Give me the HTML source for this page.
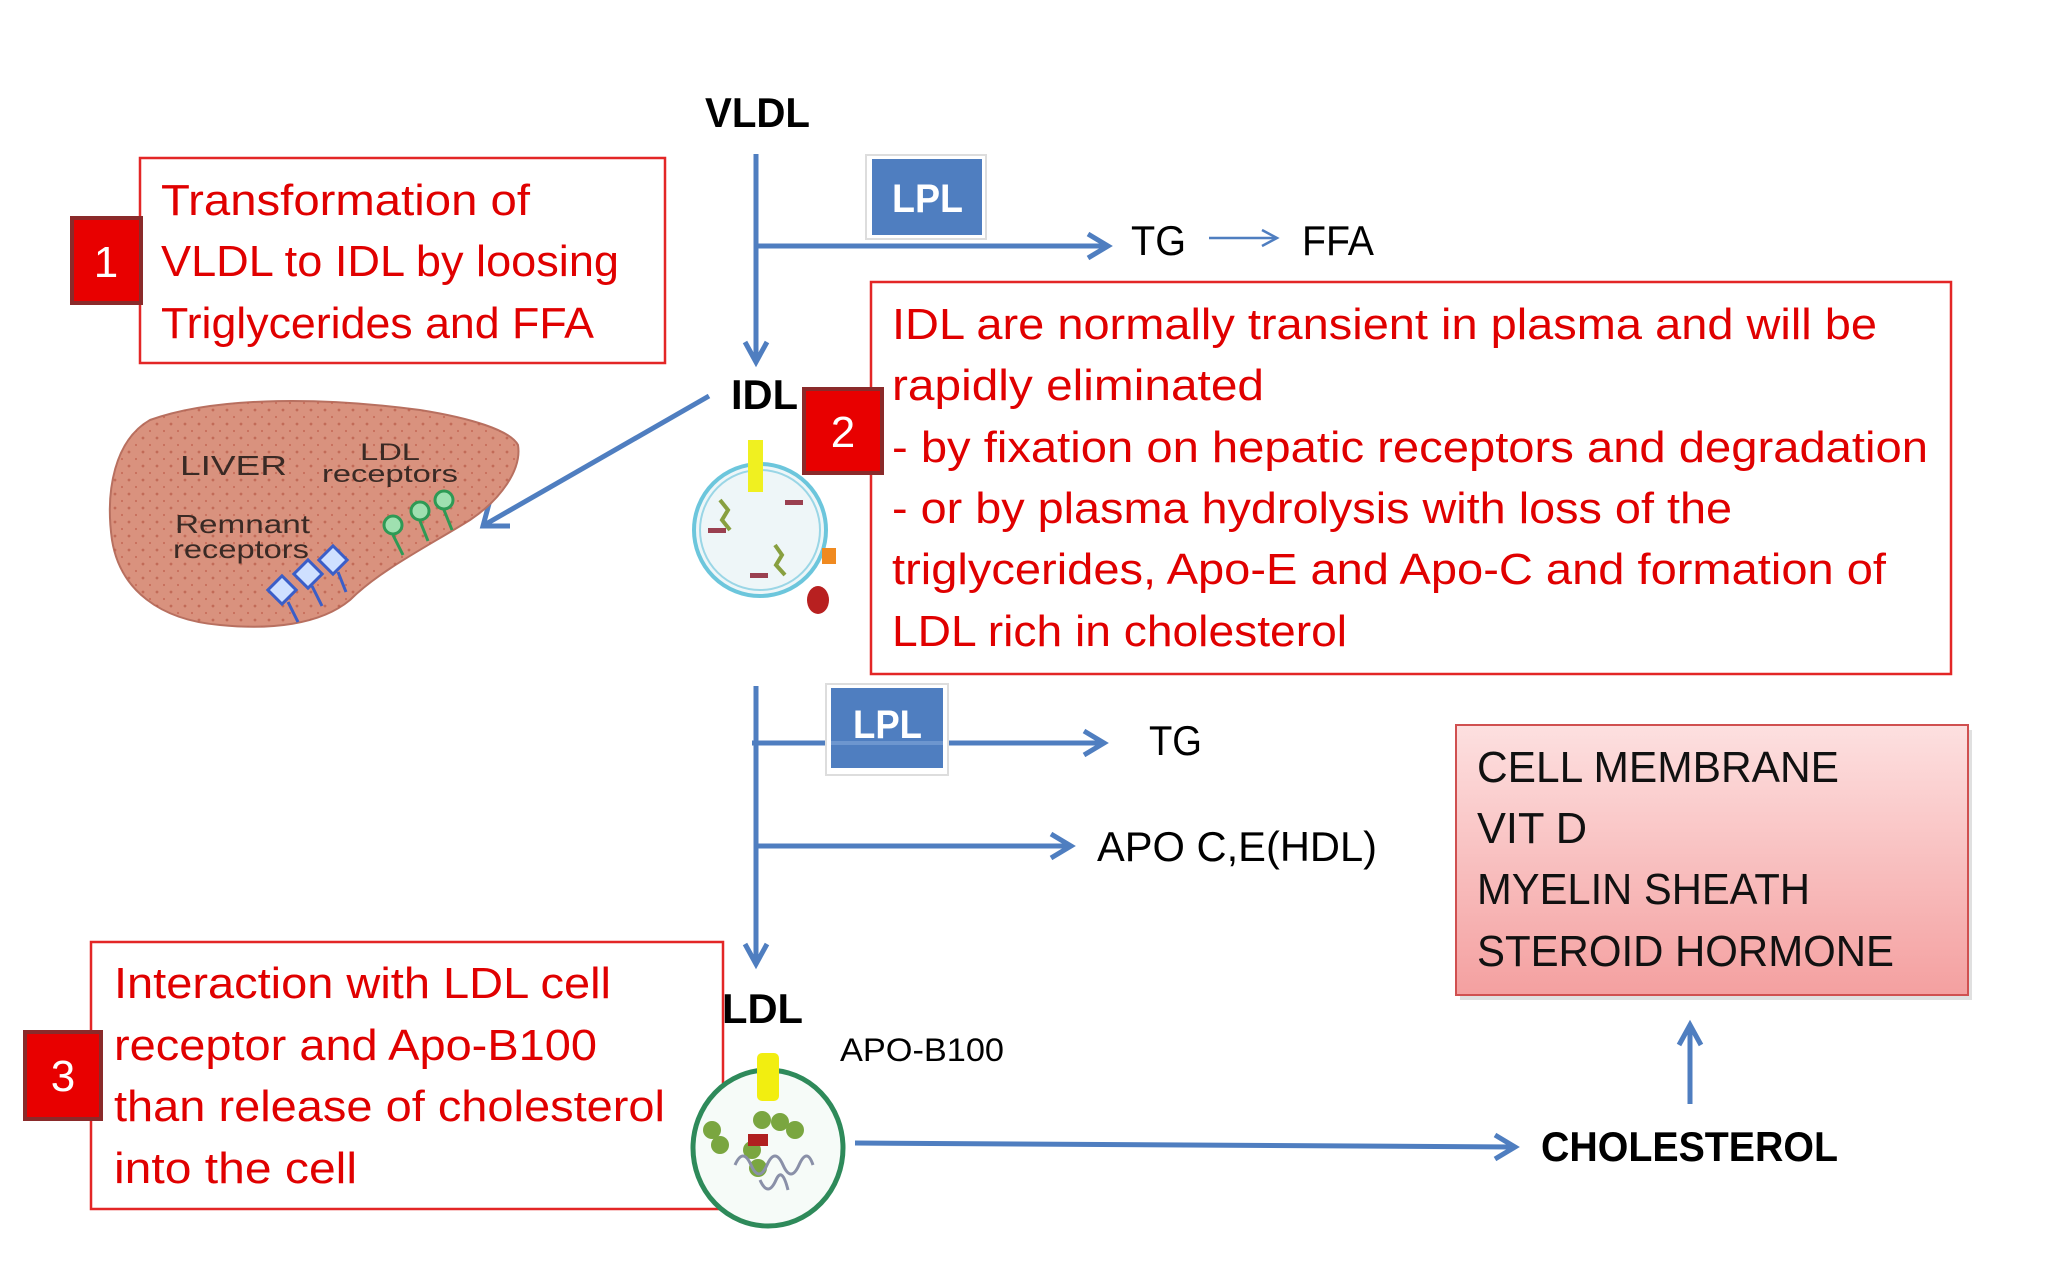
<!DOCTYPE html>
<html><head><meta charset="utf-8"><style>html,body{margin:0;padding:0;background:#fff}svg{display:block}</style></head>
<body>
<svg width="2048" height="1280" viewBox="0 0 2048 1280" xmlns="http://www.w3.org/2000/svg" font-family="Liberation Sans, sans-serif">
<defs>
<marker id="ah" markerWidth="10" markerHeight="10" refX="7" refY="5" orient="auto" markerUnits="userSpaceOnUse" viewBox="0 0 10 10">
</marker>
<linearGradient id="pk" x1="0" y1="0" x2="0" y2="1"><stop offset="0" stop-color="#fde0e0"/><stop offset="1" stop-color="#f4a0a0"/></linearGradient>
<pattern id="dots" width="14" height="14" patternUnits="userSpaceOnUse"><circle cx="3" cy="4" r="1.4" fill="#b85a48"/><circle cx="10" cy="11" r="1.1" fill="#c0604d"/></pattern>
</defs>
<g stroke="#4f7ec0" stroke-width="5" fill="none">
<!-- VLDL to IDL -->
<line x1="756" y1="154" x2="756" y2="360"/><polyline points="745,342 756,362 767,342"/>
<line x1="756" y1="246" x2="1106" y2="246"/><polyline points="1088,234 1108,246 1088,258"/>
<!-- IDL to liver -->
<line x1="709" y1="396" x2="486" y2="524"/><polyline points="490,500 483,526 510,526"/>
<!-- IDL to LDL -->
<line x1="756" y1="686" x2="756" y2="962"/><polyline points="745,944 756,964 767,944"/>
<line x1="752" y1="743" x2="1102" y2="743"/><polyline points="1084,731 1104,743 1084,755"/>
<line x1="756" y1="846" x2="1069" y2="846"/><polyline points="1051,834 1071,846 1051,858"/>
<!-- LDL to cholesterol -->
<line x1="855" y1="1143" x2="1513" y2="1147"/><polyline points="1495,1135 1515,1147 1495,1159"/>
<!-- up arrow -->
<line x1="1690" y1="1104" x2="1690" y2="1027"/><polyline points="1679,1045 1690,1025 1701,1045"/>
</g>
<g stroke="#4f7ec0" stroke-width="2.5" fill="none"><line x1="1209" y1="238" x2="1275" y2="238"/><polyline points="1262,230 1277,238 1262,246"/></g>

<!-- LPL boxes -->
<rect x="866" y="155" width="120" height="84" fill="#fff" stroke="#ddd" stroke-width="2"/>
<rect x="872" y="159" width="110" height="76" fill="#4f7ec0"/>
<text x="892" y="212" font-size="40" font-weight="bold" fill="#fff" textLength="71" lengthAdjust="spacingAndGlyphs">LPL</text>
<rect x="826" y="684" width="122" height="91" fill="#fff" stroke="#ddd" stroke-width="2"/>
<rect x="831" y="688" width="112" height="80" fill="#4f7ec0"/>
<line x1="831" y1="743" x2="943" y2="743" stroke="#6d96cf" stroke-width="4"/>
<text x="853" y="738" font-size="40" font-weight="bold" fill="#fff" textLength="69" lengthAdjust="spacingAndGlyphs">LPL</text>

<!-- labels -->
<g fill="#000">
<text x="705" y="127" font-size="42" font-weight="bold" textLength="105" lengthAdjust="spacingAndGlyphs">VLDL</text>
<text x="731" y="409" font-size="42" font-weight="bold" textLength="67" lengthAdjust="spacingAndGlyphs">IDL</text>
<text x="722" y="1023" font-size="42" font-weight="bold" textLength="81" lengthAdjust="spacingAndGlyphs">LDL</text>
<text x="1541" y="1161" font-size="42" font-weight="bold" textLength="297" lengthAdjust="spacingAndGlyphs">CHOLESTEROL</text>
<text x="1131" y="255" font-size="42" textLength="55" lengthAdjust="spacingAndGlyphs">TG</text>
<text x="1302" y="255" font-size="42" textLength="72" lengthAdjust="spacingAndGlyphs">FFA</text>
<text x="1149" y="755" font-size="42" textLength="53" lengthAdjust="spacingAndGlyphs">TG</text>
<text x="1097" y="861" font-size="42" textLength="280" lengthAdjust="spacingAndGlyphs">APO C,E(HDL)</text>
<text x="840" y="1061" font-size="32" textLength="164" lengthAdjust="spacingAndGlyphs">APO-B100</text>
</g>

<!-- Box 1 -->
<rect x="140" y="158" width="525" height="205" fill="#fff" stroke="#e32626" stroke-width="2.5"/>
<g fill="#e00000" font-size="44">
<text x="161" y="215" textLength="369" lengthAdjust="spacingAndGlyphs">Transformation of</text>
<text x="161" y="276" textLength="458" lengthAdjust="spacingAndGlyphs">VLDL to IDL by loosing</text>
<text x="161" y="338" textLength="433" lengthAdjust="spacingAndGlyphs">Triglycerides and FFA</text>
</g>
<rect x="72" y="218" width="69" height="85" fill="#e80000" stroke="#8a2a2a" stroke-width="4"/>
<text x="106" y="277" font-size="44" fill="#fff" text-anchor="middle">1</text>

<!-- Box 2 -->
<rect x="871" y="282" width="1080" height="392" fill="#fff" stroke="#e32626" stroke-width="2.5"/>
<g fill="#e00000" font-size="44">
<text x="892" y="339" textLength="985" lengthAdjust="spacingAndGlyphs">IDL are normally transient in plasma and will be</text>
<text x="892" y="400" textLength="372" lengthAdjust="spacingAndGlyphs">rapidly eliminated</text>
<text x="892" y="462" textLength="1036" lengthAdjust="spacingAndGlyphs">- by fixation on hepatic receptors and degradation</text>
<text x="892" y="523" textLength="840" lengthAdjust="spacingAndGlyphs">- or by plasma hydrolysis with loss of the</text>
<text x="892" y="584" textLength="994" lengthAdjust="spacingAndGlyphs">triglycerides, Apo-E and Apo-C and formation of</text>
<text x="892" y="646" textLength="455" lengthAdjust="spacingAndGlyphs">LDL rich in cholesterol</text>
</g>
<rect x="804" y="389" width="78" height="84" fill="#e80000" stroke="#8a2a2a" stroke-width="4"/>
<text x="843" y="447" font-size="44" fill="#fff" text-anchor="middle">2</text>

<!-- Box 3 -->
<rect x="91" y="942" width="632" height="267" fill="#fff" stroke="#e32626" stroke-width="2.5"/>
<g fill="#e00000" font-size="44">
<text x="114" y="998" textLength="497" lengthAdjust="spacingAndGlyphs">Interaction with LDL cell</text>
<text x="114" y="1060" textLength="483" lengthAdjust="spacingAndGlyphs">receptor and Apo-B100</text>
<text x="114" y="1121" textLength="551" lengthAdjust="spacingAndGlyphs">than release of cholesterol</text>
<text x="114" y="1183" textLength="243" lengthAdjust="spacingAndGlyphs">into the cell</text>
</g>
<rect x="25" y="1032" width="76" height="87" fill="#e80000" stroke="#8a2a2a" stroke-width="4"/>
<text x="63" y="1091" font-size="44" fill="#fff" text-anchor="middle">3</text>

<!-- Right pink box -->
<rect x="1460" y="730" width="512" height="270" fill="#ccc" opacity="0.6"/>
<rect x="1456" y="725" width="512" height="270" fill="url(#pk)" stroke="#d05050" stroke-width="2"/>
<g fill="#111" font-size="44">
<text x="1477" y="782" textLength="362" lengthAdjust="spacingAndGlyphs">CELL MEMBRANE</text>
<text x="1477" y="843" textLength="110" lengthAdjust="spacingAndGlyphs">VIT D</text>
<text x="1477" y="904" textLength="333" lengthAdjust="spacingAndGlyphs">MYELIN SHEATH</text>
<text x="1477" y="966" textLength="417" lengthAdjust="spacingAndGlyphs">STEROID HORMONE</text>
</g>

<!-- Liver -->
<path d="M150,420 C220,395 330,398 420,410 C470,418 510,430 518,445 C522,470 500,500 470,520 C430,545 380,570 350,600 C320,625 270,630 220,625 C160,620 120,590 112,540 C105,490 115,440 150,420 Z" fill="#d9927e" stroke="#b87060" stroke-width="2"/>
<path d="M150,420 C220,395 330,398 420,410 C470,418 510,430 518,445 C522,470 500,500 470,520 C430,545 380,570 350,600 C320,625 270,630 220,625 C160,620 120,590 112,540 C105,490 115,440 150,420 Z" fill="url(#dots)" opacity="0.7"/>
<g fill="#3a2a25" font-size="28">
<text x="180" y="475" textLength="107" lengthAdjust="spacingAndGlyphs">LIVER</text>
<text x="360" y="460" font-size="24" textLength="60" lengthAdjust="spacingAndGlyphs">LDL</text>
<text x="322" y="482" font-size="24" textLength="136" lengthAdjust="spacingAndGlyphs">receptors</text>
<text x="175" y="533" font-size="26" textLength="135" lengthAdjust="spacingAndGlyphs">Remnant</text>
<text x="173" y="558" font-size="26" textLength="136" lengthAdjust="spacingAndGlyphs">receptors</text>
</g>
<g fill="#9fe0b0" stroke="#2e9a55" stroke-width="3">
<circle cx="393" cy="525" r="9"/><circle cx="420" cy="511" r="9"/><circle cx="444" cy="500" r="9"/>
</g>
<g stroke="#2e9a55" stroke-width="3"><line x1="393" y1="535" x2="403" y2="555"/><line x1="420" y1="521" x2="428" y2="541"/><line x1="444" y1="510" x2="452" y2="530"/></g>
<g fill="#cfe0ff" stroke="#3a5ec8" stroke-width="3">
<rect x="272" y="580" width="20" height="20" transform="rotate(45 282 590)"/>
<rect x="298" y="564" width="20" height="20" transform="rotate(45 308 574)"/>
<rect x="323" y="550" width="20" height="20" transform="rotate(45 333 560)"/>
</g>
<g stroke="#3a5ec8" stroke-width="3"><line x1="288" y1="602" x2="298" y2="622"/><line x1="312" y1="586" x2="322" y2="606"/><line x1="338" y1="572" x2="346" y2="592"/></g>

<!-- IDL particle -->
<circle cx="760" cy="530" r="66" fill="#eef6f8" stroke="#6cc6dc" stroke-width="4"/>
<circle cx="760" cy="530" r="60" fill="none" stroke="#9ad6e6" stroke-width="2"/>
<rect x="748" y="440" width="15" height="52" fill="#f0f020"/>
<rect x="822" y="548" width="14" height="16" fill="#f08a20"/>
<ellipse cx="818" cy="600" rx="11" ry="14" fill="#b82020"/>
<g stroke="#88a040" stroke-width="4" fill="none"><polyline points="720,500 728,510 722,520 730,530"/><polyline points="775,545 782,555 776,565 785,575"/></g>
<g fill="#9a4050"><rect x="708" y="528" width="18" height="5"/><rect x="785" y="500" width="18" height="5"/><rect x="750" y="573" width="18" height="5"/></g>

<!-- LDL particle -->
<ellipse cx="768" cy="1148" rx="75" ry="78" fill="#f6fbf8" stroke="#2e8a5a" stroke-width="5"/>
<rect x="757" y="1053" width="22" height="48" rx="5" fill="#f2ee10"/>
<g fill="#7aa640"><circle cx="762" cy="1120" r="9"/><circle cx="780" cy="1122" r="9"/><circle cx="795" cy="1130" r="9"/><circle cx="712" cy="1130" r="9"/><circle cx="720" cy="1145" r="9"/><circle cx="752" cy="1150" r="9"/><circle cx="758" cy="1168" r="9"/></g>
<rect x="748" y="1134" width="20" height="12" fill="#b02020"/>
<g stroke="#8a90a8" stroke-width="3" fill="none"><path d="M735,1165 q8,-18 16,0 q8,18 16,0 q8,-18 16,0 q8,18 16,0 q8,-18 14,0"/><path d="M760,1180 q8,18 16,0 q6,-14 12,10"/></g>
</svg>
</body></html>
